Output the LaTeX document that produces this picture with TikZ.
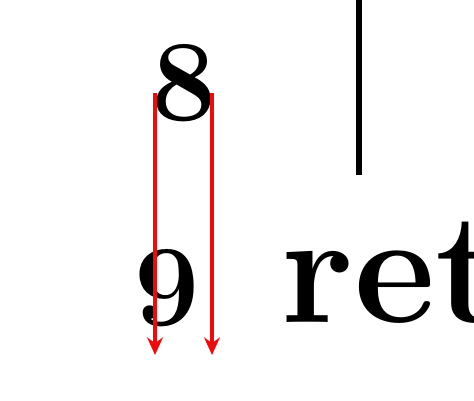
\documentclass[tikz,border=0pt]{standalone}
\usepackage{tikz}
\usetikzlibrary{arrows.meta,positioning}
\definecolor{arrowred}{RGB}{240,10,10}
\tikzset{
  digit/.style={inner sep=0pt, font=\fontsize{66}{72}\selectfont\bfseries},
  word/.style={inner sep=0pt, font=\fontsize{90}{100}\selectfont\bfseries},
  flow/.style={arrowred, line width=2pt, -{Stealth[length=10pt,width=9pt]}}
}
\begin{document}
\begin{tikzpicture}
\clip (0,0) rectangle (9.48,8);
\useasboundingbox (0,0) rectangle (9.48,8);
% Digits
\node[digit, anchor=base] (eight) at (3.68,5.58) {8};
\node[digit, anchor=base] (nine) at (3.34,1.5) {9};
% Word cut off at the right
\node[word, anchor=base west] (ret) at (5.62,1.56) {ret};
% Vertical bar
\coordinate (bartop) at (7.18,8.1);
\coordinate (barbot) at (7.18,4.5);
\draw[line width=3.4pt] (bartop) -- (barbot);
% Red arrows
\coordinate (lstart) at (3.1,6.14);
\coordinate (lend) at (3.1,0.9);
\coordinate (rstart) at (4.24,6.14);
\coordinate (rend) at (4.24,0.9);
\draw[flow] (lstart) -- (lend);
\draw[flow] (rstart) -- (rend);
\end{tikzpicture}
\end{document}
